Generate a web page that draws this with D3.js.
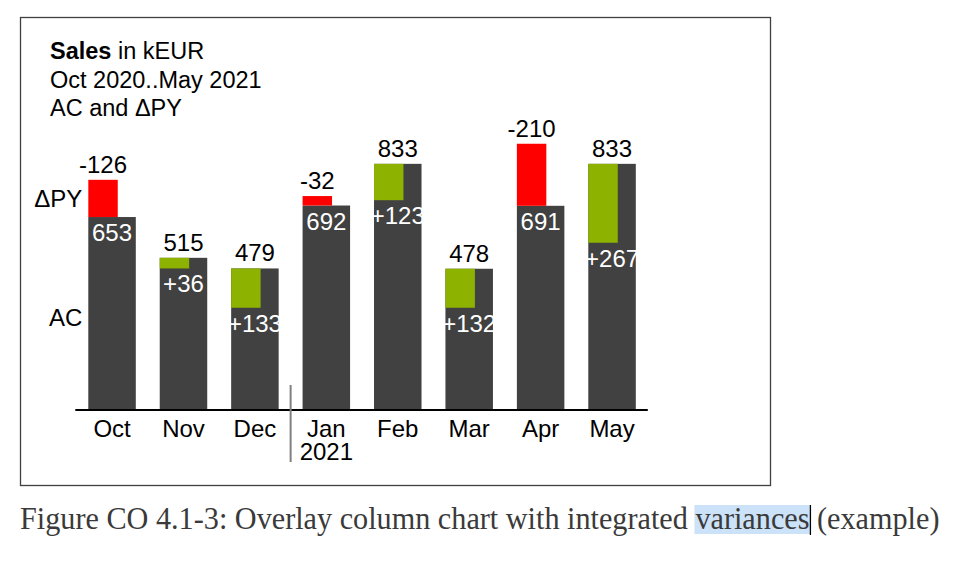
<!DOCTYPE html>
<html>
<head>
<meta charset="utf-8">
<script src="https://cdn.jsdelivr.net/npm/d3@7"></script>
<style>
  body { margin: 0; background: #fff; }
  text { font-family: Arial, "Liberation Sans", sans-serif; }
</style>
</head>
<body>
<div id="chart"></div>
<script>
// sales in kEUR, actual and delta to previous year
var MONTHS = ['Oct', 'Nov', 'Dec', 'Jan', 'Feb', 'Mar', 'Apr', 'May'];
var YEARS = {'Jan': '2021'};
var AC = [653, 515, 479, 692, 833, 478, 691, 833];
var DPY = [-126, 36, 133, -32, 123, 132, -210, 267];
var TITLE = ['Oct 2020..May 2021', 'AC and \u0394PY'];
var CAPTION = 'Figure CO 4.1-3: Overlay column chart with integrated variances (example)';
var MARKED = 'variances';

var COLORS = {
    ac: '#414141',
    good: '#8db300',
    bad: '#ff0000'
};

var WIDTH = 968, HEIGHT = 570;
var BASE = 410;
var FS = 24;

var sx = d3.scaleBand()
    .domain(MONTHS)
    .range([88.3, 635.8])
    .paddingInner(0.335)
    .paddingOuter(0);
var sy = d3.scaleLinear()
    .domain([0, 1000])
    .range([BASE, BASE - 295.5]);

var BW = sx.bandwidth();
var VW = BW * 0.62;

var rows = MONTHS.map(function(m, i) {
    return {m: m, ac: AC[i], d: DPY[i]};
});

var svg = d3.select('#chart').append('svg')
    .attr('width', WIDTH)
    .attr('height', HEIGHT);

svg.append('rect')
    .attr('x', 20.5).attr('y', 17.5)
    .attr('width', 750).attr('height', 468)
    .attr('fill', 'none')
    .attr('stroke', '#404040')
    .attr('stroke-width', 1.3);

// title
var t0 = svg.append('text')
    .attr('x', 50).attr('y', 59)
    .attr('font-size', 23.5);
t0.append('tspan').attr('font-weight', 'bold').text('Sales');
t0.append('tspan').text(' in kEUR');
svg.selectAll('.sub').data(TITLE).enter()
    .append('text')
    .attr('class', 'sub')
    .attr('x', 50)
    .attr('y', function(d, i) { return 87.5 + i * 28; })
    .attr('font-size', 23.5)
    .text(function(d) { return d; });

// AC columns
svg.selectAll('.ac').data(rows).enter()
    .append('rect')
    .attr('class', 'ac')
    .attr('x', function(d) { return sx(d.m); })
    .attr('y', function(d) { return sy(d.ac); })
    .attr('width', BW)
    .attr('height', function(d) { return BASE - sy(d.ac); })
    .attr('fill', COLORS.ac);

// variance overlays
svg.selectAll('.var').data(rows).enter()
    .append('rect')
    .attr('class', 'var')
    .attr('x', function(d) { return sx(d.m); })
    .attr('y', function(d) { return d.d < 0 ? sy(d.ac - d.d) : sy(d.ac); })
    .attr('width', VW)
    .attr('height', function(d) { return Math.abs(sy(0) - sy(Math.abs(d.d))); })
    .attr('fill', function(d) { return d.d < 0 ? COLORS.bad : COLORS.good; });

// labels above
svg.selectAll('.top').data(rows).enter()
    .append('text')
    .attr('class', 'top')
    .attr('x', function(d) { return d.d < 0 ? sx(d.m) + VW / 2 : sx(d.m) + BW / 2; })
    .attr('y', function(d) { return (d.d < 0 ? sy(d.ac - d.d) : sy(d.ac)) - 7; })
    .attr('text-anchor', 'middle')
    .attr('font-size', FS)
    .attr('fill', '#000')
    .text(function(d) { return d.d < 0 ? String(d.d) : d.ac; });

// labels inside
svg.selectAll('.inner').data(rows).enter()
    .append('text')
    .attr('class', 'inner')
    .attr('x', function(d) { return sx(d.m) + BW / 2; })
    .attr('y', function(d) { return (d.d < 0 ? sy(d.ac) : sy(d.ac - d.d)) + 24; })
    .attr('text-anchor', 'middle')
    .attr('font-size', FS)
    .attr('fill', '#fff')
    .text(function(d) { return d.d < 0 ? d.ac : '+' + d.d; });

// row labels on the left, next to the first column
var first = rows[0];
svg.append('text')
    .attr('x', sx(first.m) - 6)
    .attr('y', (sy(first.ac) + sy(first.ac - first.d)) / 2 + 8.5)
    .attr('text-anchor', 'end')
    .attr('font-size', FS)
    .text('\u0394PY');
svg.append('text')
    .attr('x', sx(first.m) - 6)
    .attr('y', (sy(first.ac) + BASE) / 2 + 12.5)
    .attr('text-anchor', 'end')
    .attr('font-size', FS)
    .text('AC');

// axis
var xr = sx.range();
svg.append('line')
    .attr('x1', xr[0] - 13).attr('x2', xr[1] + 12)
    .attr('y1', BASE).attr('y2', BASE)
    .attr('stroke', '#000')
    .attr('stroke-width', 2);

var months = svg.selectAll('.month').data(MONTHS).enter()
    .append('text')
    .attr('class', 'month')
    .attr('y', 437)
    .attr('text-anchor', 'middle')
    .attr('font-size', FS);
months.append('tspan')
    .attr('x', function(d) { return sx(d) + BW / 2; })
    .text(function(d) { return d; });
months.filter(function(d) { return YEARS[d]; })
    .append('tspan')
    .attr('x', function(d) { return sx(d) + BW / 2; })
    .attr('dy', 23)
    .text(function(d) { return YEARS[d]; });

// year separator
var sepX = (sx('Dec') + BW + sx('Jan')) / 2;
svg.append('line')
    .attr('x1', sepX).attr('x2', sepX)
    .attr('y1', 385).attr('y2', 462)
    .attr('stroke', '#808080')
    .attr('stroke-width', 2);

// caption below the frame, squeezed to the width of the reference
var capG = svg.append('g');
var mark = capG.append('rect').attr('fill', '#cce2f8');
var cap = capG.append('text')
    .attr('x', 0)
    .attr('y', 529)
    .attr('font-size', 32)
    .attr('fill', '#3a3a3a')
    .style('font-family', '"Liberation Serif", "Times New Roman", serif')
    .text(CAPTION);
var capLen = cap.node().getComputedTextLength();
var k = 920 / capLen;
capG.attr('transform', 'translate(20,0) scale(' + k + ',1)');
var i0 = CAPTION.indexOf(MARKED);
var mx = cap.node().getStartPositionOfChar(i0).x;
var mw = cap.node().getSubStringLength(i0, MARKED.length);
mark.attr('x', mx - 1).attr('y', 505)
    .attr('width', mw + 2).attr('height', 29);
var cx = 20 + (mx + mw + 1) * k;
svg.append('line')
    .attr('x1', cx).attr('x2', cx)
    .attr('y1', 505).attr('y2', 535)
    .attr('stroke', '#000')
    .attr('stroke-width', 1.3);
</script>
</body>
</html>
